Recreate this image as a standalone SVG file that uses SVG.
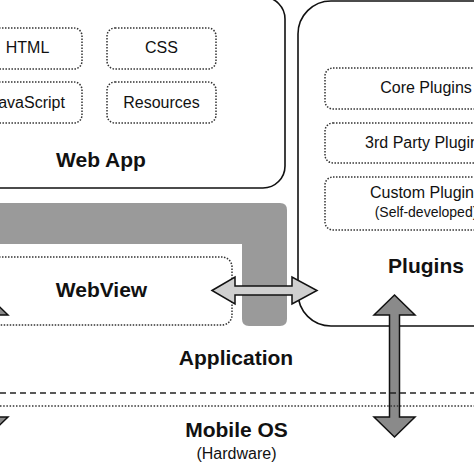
<svg xmlns="http://www.w3.org/2000/svg" width="474" height="474" viewBox="0 0 474 474">
<style>
text{font-family:"Liberation Sans",Arial,sans-serif;fill:#111;text-anchor:middle}
.title{font-size:21px;font-weight:bold}
.lbl{font-size:16px}
.small{font-size:14px}
.outer{fill:#fff;stroke:#111;stroke-width:1.6}
.dot{fill:#fff;stroke:#333;stroke-width:1.5;stroke-dasharray:1.5 1.5}
.arrowL{fill:#cfcfcf;stroke:#111;stroke-width:1.5;stroke-linejoin:miter}
.arrowD{fill:#8a8a8a;stroke:#111;stroke-width:1.5;stroke-linejoin:miter}
</style>
<rect width="474" height="474" fill="#fff"/>
<g id="webapp">
<rect class="outer" x="-90" y="-3" width="375" height="191" rx="22"/>
<g id="html"><rect class="dot" x="-27" y="28" width="109" height="41" rx="8"/><text class="lbl" x="27.5" y="53">HTML</text></g>
<g id="css"><rect class="dot" x="107" y="28" width="109" height="41" rx="8"/><text class="lbl" x="161.5" y="53">CSS</text></g>
<g id="javascript"><rect class="dot" x="-27" y="82" width="109" height="41" rx="8"/><text class="lbl" x="27.5" y="108">JavaScript</text></g>
<g id="resources"><rect class="dot" x="107" y="82" width="109" height="41" rx="8"/><text class="lbl" x="161.5" y="108">Resources</text></g>
<text class="title" x="101" y="167">Web App</text>
</g>
<g id="plugins">
<rect class="outer" x="298" y="1" width="300" height="325" rx="33"/>
<g id="core"><rect class="dot" x="325" y="68" width="203" height="41" rx="8"/><text class="lbl" x="426" y="93">Core Plugins</text></g>
<g id="thirdparty"><rect class="dot" x="325" y="123" width="203" height="40" rx="8"/><text class="lbl" x="426" y="148">3rd Party Plugins</text></g>
<g id="custom"><rect class="dot" x="325" y="177" width="203" height="53" rx="8"/><text class="lbl" x="426" y="198">Custom Plugins</text><text class="small" x="426" y="217">(Self-developed)</text></g>
<text class="title" x="426" y="273">Plugins</text>
</g>
<g id="application">
<path d="M-10 203 H280 Q287 203 287 210 V319 Q287 326 280 326 H249 Q242 326 242 319 V244 H-10 Z" fill="#9a9a9a"/>
<text class="title" x="236" y="365">Application</text>
</g>
<g id="webview">
<rect class="dot" x="-20" y="257" width="252" height="68" rx="10"/>
<text class="title" x="101.5" y="297">WebView</text>
</g>
<g id="connectors">
<polygon class="arrowL" points="212,290.5 235,277 235,286 292,286 292,277 317,290.5 292,304 292,295 235,295 235,304"/>
<polygon class="arrowD" points="394.5,295 415,315 399.5,315 399.5,417 415,417 394.5,437 374,417 389.5,417 389.5,315 374,315"/>
<polygon class="arrowD" points="-12.5,295 8,315 -7.5,315 -7.5,417 8,417 -12.5,437 -33,417 -17.5,417 -17.5,315 -33,315"/>
</g>
<g id="mobileos">
<line x1="0" y1="393" x2="474" y2="393" stroke="#222" stroke-width="1.6" stroke-dasharray="6 4"/>
<line x1="0" y1="406" x2="474" y2="406" stroke="#333" stroke-width="1.5" stroke-dasharray="1.5 1.7"/>
<text class="title" x="236.5" y="437">Mobile OS</text>
<text class="lbl" x="236.5" y="459">(Hardware)</text>
</g>
</svg>
